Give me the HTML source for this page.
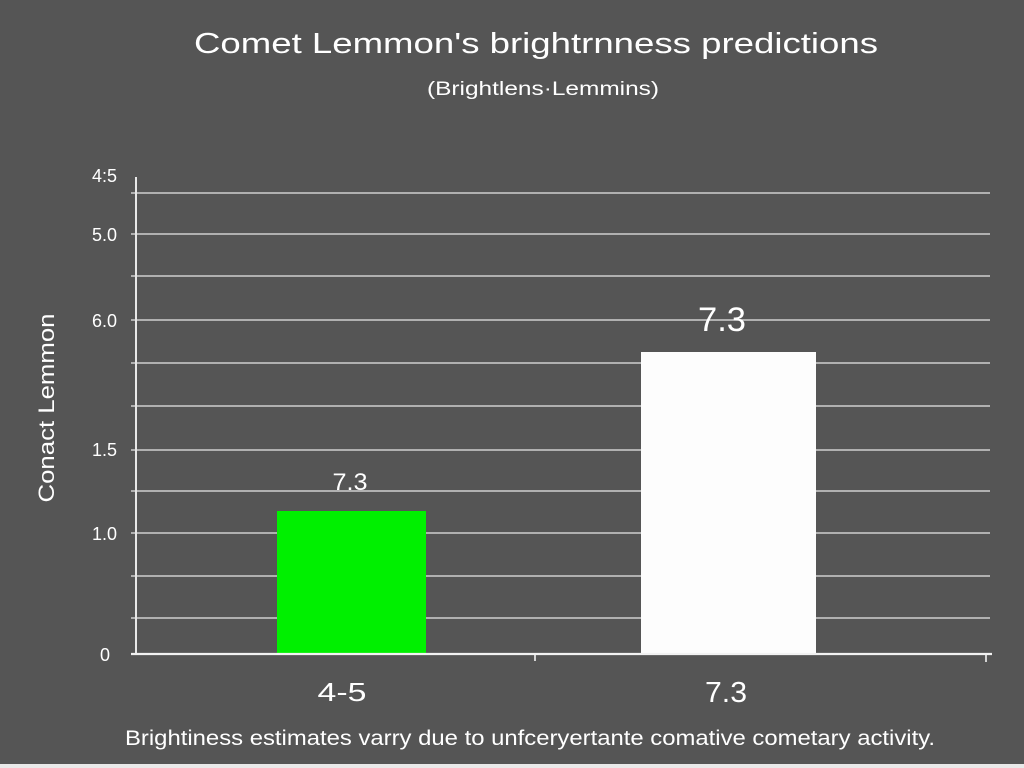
<!DOCTYPE html>
<html>
<head>
<meta charset="utf-8">
<style>
html,body{margin:0;padding:0;background:#555555;}
svg{display:block;}
text{font-family:"Liberation Sans",sans-serif;fill:#ffffff;}
</style>
</head>
<body>
<svg width="1024" height="768" viewBox="0 0 1024 768" xmlns="http://www.w3.org/2000/svg">
<rect x="0" y="0" width="1024" height="768" fill="#555555"/>
<rect x="0" y="764" width="1024" height="4" fill="#e9e9e9"/>

<!-- title -->
<text x="536" y="53" font-size="29" text-anchor="middle" textLength="684" lengthAdjust="spacingAndGlyphs">Comet Lemmon's brightrnness predictions</text>
<text x="543" y="95" font-size="19" text-anchor="middle" textLength="232" lengthAdjust="spacingAndGlyphs">(Brightlens·Lemmins)</text>

<!-- gridlines -->
<g stroke="#cfcfcf" stroke-width="1.6">
<line x1="131" y1="193" x2="990" y2="193"/>
<line x1="131" y1="234" x2="990" y2="234"/>
<line x1="131" y1="276" x2="990" y2="276"/>
<line x1="131" y1="320" x2="990" y2="320"/>
<line x1="131" y1="363" x2="990" y2="363"/>
<line x1="131" y1="406" x2="990" y2="406"/>
<line x1="131" y1="450" x2="990" y2="450"/>
<line x1="131" y1="491" x2="990" y2="491"/>
<line x1="131" y1="533" x2="990" y2="533"/>
<line x1="131" y1="576" x2="990" y2="576"/>
<line x1="131" y1="618" x2="990" y2="618"/>
</g>

<!-- bars -->
<rect x="277" y="511" width="149" height="143" fill="#00f000"/>
<rect x="641" y="352" width="175" height="302" fill="#fdfdfd"/>

<!-- axes -->
<line x1="136" y1="177" x2="136" y2="654" stroke="#e8e8e8" stroke-width="2"/>
<line x1="131" y1="654" x2="992" y2="654" stroke="#f2f2f2" stroke-width="2.2"/>
<line x1="535" y1="654" x2="535" y2="661" stroke="#f2f2f2" stroke-width="1.6"/>
<line x1="986" y1="654" x2="986" y2="662" stroke="#f2f2f2" stroke-width="1.6"/>

<!-- y tick labels -->
<g font-size="18" text-anchor="end">
<text x="117" y="182">4:5</text>
<text x="117" y="241">5.0</text>
<text x="117" y="327">6.0</text>
<text x="117" y="456">1.5</text>
<text x="117" y="540">1.0</text>
<text x="110" y="661">0</text>
</g>

<!-- y axis label -->
<text transform="translate(54,408) rotate(-90)" font-size="22" text-anchor="middle" textLength="189" lengthAdjust="spacingAndGlyphs">Conact Lemmon</text>

<!-- bar value labels -->
<text x="350" y="490" font-size="24" text-anchor="middle" textLength="35" lengthAdjust="spacingAndGlyphs">7.3</text>
<text x="722" y="331" font-size="34" text-anchor="middle" textLength="48" lengthAdjust="spacingAndGlyphs">7.3</text>

<!-- x labels -->
<text x="342" y="701" font-size="26" text-anchor="middle" textLength="49" lengthAdjust="spacingAndGlyphs">4-5</text>
<text x="726" y="702" font-size="29" text-anchor="middle" textLength="42" lengthAdjust="spacingAndGlyphs">7.3</text>

<!-- footer -->
<text x="530" y="745" font-size="21" text-anchor="middle" textLength="810" lengthAdjust="spacingAndGlyphs">Brightiness estimates varry due to unfceryertante comative cometary activity.</text>
</svg>
</body>
</html>
